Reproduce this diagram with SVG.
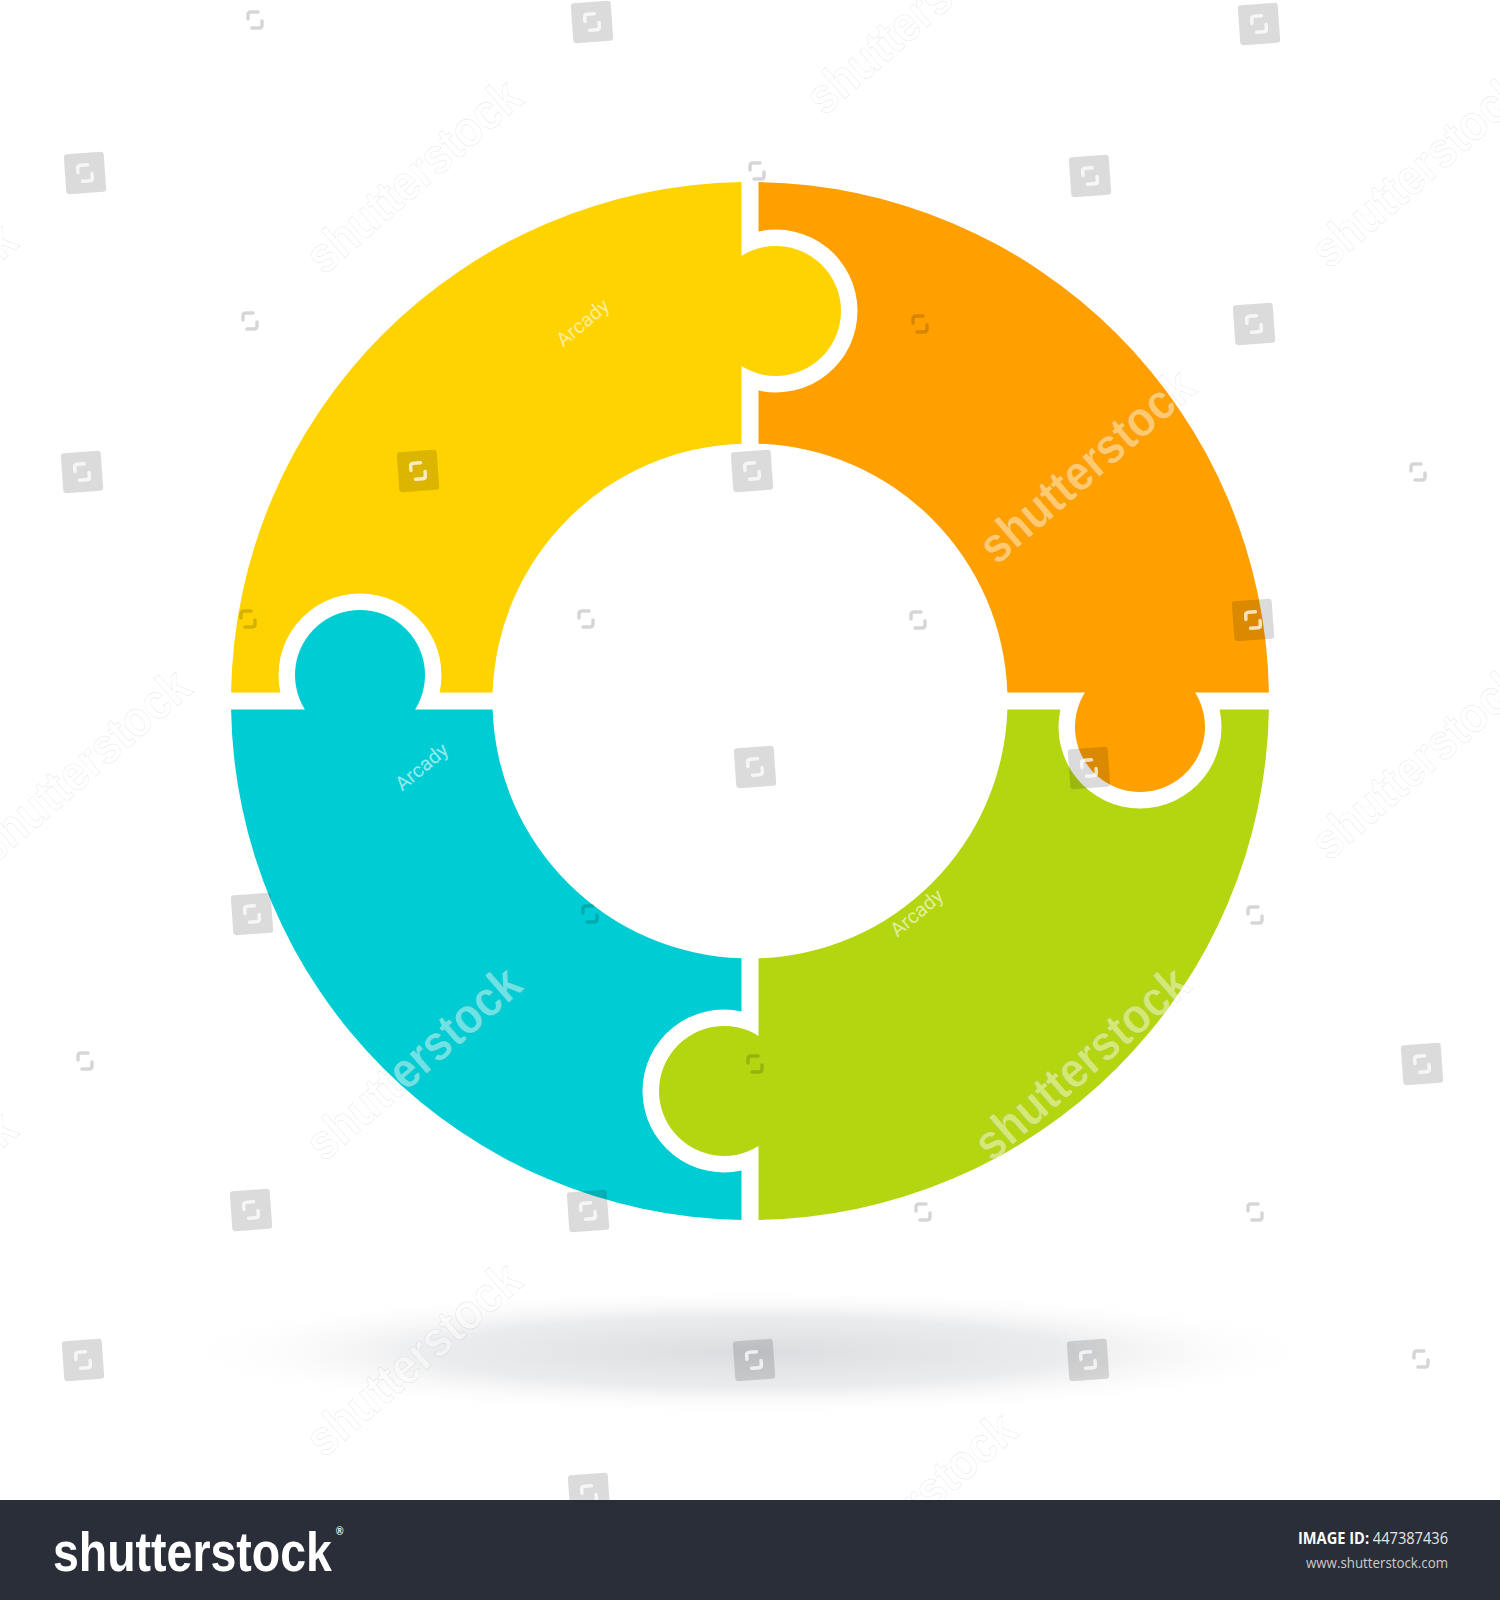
<svg xmlns="http://www.w3.org/2000/svg" xmlns:xlink="http://www.w3.org/1999/xlink" width="1500" height="1600" viewBox="0 0 1500 1600">
  <style>
    .wmtext { font-family: "Liberation Sans", Arial, sans-serif; font-weight: bold; font-size: 50px; fill: #ffffff; fill-opacity: 0.45; stroke: #000000; stroke-opacity: 0.08; stroke-width: 1; }
    .arcady { font-family: "Roboto", "Liberation Sans", sans-serif; font-size: 20px; fill: #ffffff; fill-opacity: 0.6; text-anchor: middle; }
    .glyph { fill: none; stroke-linecap: round; stroke-linejoin: round; }
  </style>
  <defs>
    <radialGradient id="shadowGrad" cx="0.5" cy="0.5" r="0.5">
      <stop offset="0" stop-color="#dcdde0" stop-opacity="1"/>
      <stop offset="0.55" stop-color="#e6e7e9" stop-opacity="0.8"/>
      <stop offset="1" stop-color="#ffffff" stop-opacity="0"/>
    </radialGradient>
    <path id="piece" d="M -518.93 -8.5 A 519 519 0 0 1 -8.5 -518.93 L -8.5 -445.09 A 65 65 0 1 1 -8.5 -334.91 L -8.5 -257.36 A 257.5 257.5 0 0 0 -257.36 -8.5 L -310.4 -8.5 A 81.5 81.5 0 1 0 -469.6 -8.5 Z"/>
    <g id="wmsq">
      <rect x="-20" y="-20" width="40" height="40" rx="3" fill="#000000" fill-opacity="0.14"/>
      <path class="glyph" d="M 3 -8 H -4 Q -7 -8 -7 -5 V -1 M -3 8 H 4 Q 7 8 7 5 V 1" stroke="#ffffff" stroke-opacity="0.75" stroke-width="3.5"/>
    </g>
    <g id="wmic">
      <path class="glyph" d="M 3 -8 H -4 Q -7 -8 -7 -5 V -1 M -3 8 H 4 Q 7 8 7 5 V 1" stroke="#000000" stroke-opacity="0.16" stroke-width="3.5"/>
    </g>
  </defs>

  <rect x="0" y="0" width="1500" height="1600" fill="#ffffff"/>

  <g id="shadow">
    <ellipse cx="750" cy="1352" rx="580" ry="64" fill="url(#shadowGrad)"/>
  </g>

  <g id="piece-yellow" transform="translate(750 701)">
    <use xlink:href="#piece" href="#piece" fill="#FFD300"/>
  </g>
  <g id="piece-orange" transform="translate(750 701) rotate(90)">
    <use xlink:href="#piece" href="#piece" fill="#FFA000"/>
  </g>
  <g id="piece-green" transform="translate(750 701) rotate(180)">
    <use xlink:href="#piece" href="#piece" fill="#B4D611"/>
  </g>
  <g id="piece-teal" transform="translate(750 701) rotate(270)">
    <use xlink:href="#piece" href="#piece" fill="#00CDD3"/>
  </g>

  <g id="connectors"></g>

  <g id="watermark-icons">
    <use href="#wmsq" transform="translate(592 22) rotate(-4)"/>
    <use href="#wmsq" transform="translate(1259 24) rotate(-4)"/>
    <use href="#wmsq" transform="translate(85 173) rotate(-4)"/>
    <use href="#wmsq" transform="translate(1090 176) rotate(-4)"/>
    <use href="#wmsq" transform="translate(1254 324) rotate(-4)"/>
    <use href="#wmsq" transform="translate(82 472) rotate(-4)"/>
    <use href="#wmsq" transform="translate(418 471) rotate(-4)"/>
    <use href="#wmsq" transform="translate(752 471) rotate(-4)"/>
    <use href="#wmsq" transform="translate(1253 620) rotate(-4)"/>
    <use href="#wmsq" transform="translate(755 767) rotate(-4)"/>
    <use href="#wmsq" transform="translate(1089 768) rotate(-4)"/>
    <use href="#wmsq" transform="translate(252 914) rotate(-4)"/>
    <use href="#wmsq" transform="translate(1422 1064) rotate(-4)"/>
    <use href="#wmsq" transform="translate(251 1210) rotate(-4)"/>
    <use href="#wmsq" transform="translate(588 1211) rotate(-4)"/>
    <use href="#wmsq" transform="translate(83 1360) rotate(-4)"/>
    <use href="#wmsq" transform="translate(754 1360) rotate(-4)"/>
    <use href="#wmsq" transform="translate(1088 1360) rotate(-4)"/>
    <use href="#wmsq" transform="translate(589 1494) rotate(-4)"/>
    <use href="#wmic" transform="translate(255 20)"/>
    <use href="#wmic" transform="translate(757 171)"/>
    <use href="#wmic" transform="translate(250 321)"/>
    <use href="#wmic" transform="translate(920 324)"/>
    <use href="#wmic" transform="translate(1418 472)"/>
    <use href="#wmic" transform="translate(586 619)"/>
    <use href="#wmic" transform="translate(918 620)"/>
    <use href="#wmic" transform="translate(248 619)"/>
    <use href="#wmic" transform="translate(590 914)"/>
    <use href="#wmic" transform="translate(1255 915)"/>
    <use href="#wmic" transform="translate(85 1061)"/>
    <use href="#wmic" transform="translate(755 1064)"/>
    <use href="#wmic" transform="translate(923 1212)"/>
    <use href="#wmic" transform="translate(1255 1212)"/>
    <use href="#wmic" transform="translate(1421 1359)"/>
  </g>

  <g id="watermark-text">
    <text class="wmtext" transform="translate(324 276) rotate(-41)" textLength="266" lengthAdjust="spacingAndGlyphs">shutterstock</text>
    <text class="wmtext" transform="translate(824 117) rotate(-41)" textLength="266" lengthAdjust="spacingAndGlyphs">shutterstock</text>
    <text class="wmtext" transform="translate(1329 270) rotate(-41)" textLength="266" lengthAdjust="spacingAndGlyphs">shutterstock</text>
    <text class="wmtext" transform="translate(997 566) rotate(-41)" textLength="266" lengthAdjust="spacingAndGlyphs">shutterstock</text>
    <text class="wmtext" transform="translate(-7 866) rotate(-41)" textLength="266" lengthAdjust="spacingAndGlyphs">shutterstock</text>
    <text class="wmtext" transform="translate(1329 862) rotate(-41)" textLength="266" lengthAdjust="spacingAndGlyphs">shutterstock</text>
    <text class="wmtext" transform="translate(324 1163) rotate(-41)" textLength="266" lengthAdjust="spacingAndGlyphs">shutterstock</text>
    <text class="wmtext" transform="translate(992 1163) rotate(-41)" textLength="266" lengthAdjust="spacingAndGlyphs">shutterstock</text>
    <text class="wmtext" transform="translate(324 1459) rotate(-41)" textLength="266" lengthAdjust="spacingAndGlyphs">shutterstock</text>
    <text class="wmtext" transform="translate(819 1609) rotate(-41)" textLength="266" lengthAdjust="spacingAndGlyphs">shutterstock</text>
    <text class="wmtext" transform="translate(-181 420) rotate(-41)" textLength="266" lengthAdjust="spacingAndGlyphs">shutterstock</text>
    <text class="wmtext" transform="translate(-181 1308) rotate(-41)" textLength="266" lengthAdjust="spacingAndGlyphs">shutterstock</text>
    <text class="arcady" transform="translate(587 328) rotate(-40)">Arcady</text>
    <text class="arcady" transform="translate(426 772) rotate(-40)">Arcady</text>
    <text class="arcady" transform="translate(921 918) rotate(-40)">Arcady</text>
  </g>

  <g id="footer">
    <rect x="0" y="1500" width="1500" height="100" fill="#292E39"/>
    <text transform="translate(53 1571) scale(0.83 1)" font-family="Liberation Sans, Arial, sans-serif" font-weight="bold" font-size="56" fill="#ffffff">shutterstock<tspan dx="5" dy="-36" font-size="12">®</tspan></text>
    <text x="1448" y="1544" text-anchor="end" font-family="Open Sans, Liberation Sans, sans-serif" font-size="16" fill="#e6e6e6" textLength="150" lengthAdjust="spacingAndGlyphs"><tspan font-weight="bold" fill="#ffffff">IMAGE ID:</tspan> 447387436</text>
    <text x="1448" y="1568" text-anchor="end" font-family="Open Sans, Liberation Sans, sans-serif" font-size="14.5" fill="#c9cbcf" textLength="142" lengthAdjust="spacingAndGlyphs">www.shutterstock.com</text>
  </g>
</svg>
